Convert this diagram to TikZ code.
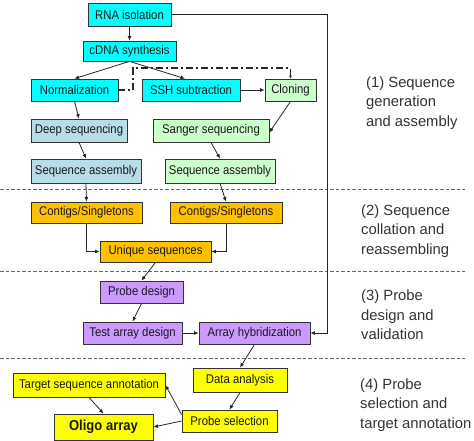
\documentclass[tikz,border=0pt]{standalone}
\usepackage{fontspec}
\setmainfont{Liberation Sans}
\newfontfamily\boxfont[FakeStretch=0.9]{Liberation Sans}
\usetikzlibrary{arrows.meta}

\definecolor{cyanfill}{HTML}{00FFFF}
\definecolor{greyfill}{HTML}{B7DEE8}
\definecolor{greenfill}{HTML}{CCFFCC}
\definecolor{goldfill}{HTML}{FFC000}
\definecolor{violetfill}{HTML}{CC99FF}
\definecolor{yellowfill}{HTML}{FFFF00}
\definecolor{labeltext}{HTML}{333333}

\tikzset{
  box/.style={draw=black!80,line width=0.8pt,inner sep=0pt,text=black!90,
    font=\boxfont\fontsize{12.6}{14}\selectfont},
  cyanbox/.style={box,fill=cyanfill},
  greybox/.style={box,fill=greyfill},
  greenbox/.style={box,fill=greenfill},
  goldbox/.style={box,fill=goldfill},
  violetbox/.style={box,fill=violetfill},
  yellowbox/.style={box,fill=yellowfill},
  arr/.style={-{Latex[length=4.5pt,width=4pt]},line width=0.8pt,draw=black!85},
  dashdot/.style={-{Latex[length=3pt,width=3pt]},line width=1.4pt,draw=black!85,
    dash pattern=on 7pt off 3pt on 2pt off 3pt},
  sep/.style={draw=black!60,line width=0.8pt,dash pattern=on 3.5pt off 2pt},
  stage/.style={anchor=west,align=left,inner sep=0pt,text=labeltext,
    font=\fontsize{14.8}{19.5}\selectfont}
}

\begin{document}
\begin{tikzpicture}[x=1pt,y=-1pt]
\useasboundingbox (0,0) rectangle (474,440);

%Stage separators
\draw[sep] (0,189)--(465,189);
\draw[sep] (0,271)--(465,271);
\draw[sep] (0,358)--(465,358);

%(1) Sequence generation and assembly
\node[cyanbox,minimum width=83,minimum height=23] (rna) at (129.5,14.5) {RNA isolation};
\node[cyanbox,minimum width=93,minimum height=20] (cdna) at (129.5,51) {cDNA synthesis};
\node[cyanbox,minimum width=87,minimum height=22] (norm) at (74.5,90) {Normalization};
\node[cyanbox,minimum width=98,minimum height=22] (ssh) at (191,90) {SSH subtraction};
\node[greenbox,minimum width=51,minimum height=22] (clon) at (290.5,90) {Cloning};
\node[greybox,minimum width=96,minimum height=23] (deep) at (79,130.5) {Deep sequencing};
\node[greenbox,minimum width=116,minimum height=23] (sanger) at (211,130.5) {Sanger sequencing};
\node[greybox,minimum width=110,minimum height=24] (asml) at (86,171) {Sequence assembly};
\node[greenbox,minimum width=110,minimum height=24] (asmr) at (220,171) {Sequence assembly};

%(2) Sequence collation and reassembling
\node[goldbox,minimum width=111,minimum height=21] (contl) at (86.5,212.5) {Contigs/Singletons};
\node[goldbox,minimum width=112,minimum height=21] (contr) at (226,212.5) {Contigs/Singletons};
\node[goldbox,minimum width=111,minimum height=21] (uniq) at (155.5,251.5) {Unique sequences};

%(3) Probe design and validation
\node[violetbox,minimum width=83,minimum height=22] (probe) at (141.5,292) {Probe design};
\node[violetbox,minimum width=99,minimum height=22] (test) at (132.5,333) {Test array design};
\node[violetbox,minimum width=111,minimum height=22] (hyb) at (254.5,333) {Array hybridization};

%(4) Probe selection and target annotation
\node[yellowbox,minimum width=94,minimum height=24] (data) at (240,380) {Data analysis};
\node[yellowbox,minimum width=152,minimum height=24] (target) at (89,385) {Target sequence annotation};
\node[yellowbox,minimum width=95,minimum height=22] (psel) at (229.5,421) {Probe selection};
\node[yellowbox,minimum width=99,minimum height=26,font=\boxfont\fontsize{14.5}{16}\selectfont\bfseries] (oligo) at (103.5,427) {Oligo array};

%Links
\draw[arr] (rna.south)--(cdna.north);
\draw[arr] (cdna.south)--(norm.north);
\draw[arr] (cdna.south)--([xshift=-6]ssh.north);
\draw[arr] (ssh.east)--(clon.west);
\draw[arr] (norm.south)--(deep.north);
\draw[arr] (clon.south)--([yshift=-2]sanger.east);
\draw[arr] (deep.south)--(asml.north);
\draw[arr] (sanger.south)--(asmr.north);
\draw[arr] (asml.south)--(contl.north);
\draw[arr] (asmr.south)--(contr.north);
\draw[arr] (contl.south) |- (uniq.west);
\draw[arr] (contr.south) |- (uniq.east);
\draw[arr] (uniq.south)--(probe.north);
\draw[arr] (probe.south)--(test.north);
\draw[arr] (test.east)--(hyb.west);
\draw[arr] (hyb.south)--(data.north);
\draw[arr] (data.south)--(psel.north);
\draw[arr] (target.south)--(oligo.north);
\draw[arr] (psel.west)--(oligo.east);
\draw[arr] ([yshift=-5]psel.north west)--(target.east);

%Long link from RNA isolation to array hybridization
\coordinate (turn) at (327,333);
\draw[arr] (rna.east) -| (turn) -- (hyb.east);

%Dash-dot link from normalization to cloning
\coordinate (bend) at (133,68);
\draw[dashdot] (norm.east) -| (bend) -| (clon.north);

%Stage labels
\node[stage] (s1) at (366,103) {(1) Sequence\\generation\\and assembly};
\node[stage] (s2) at (361,231) {(2) Sequence\\collation and\\reassembling};
\node[stage] (s3) at (361,315) {(3) Probe\\design and\\validation};
\node[stage] (s4) at (360,405) {(4) Probe\\selection and\\target annotation};
\end{tikzpicture}
\end{document}
